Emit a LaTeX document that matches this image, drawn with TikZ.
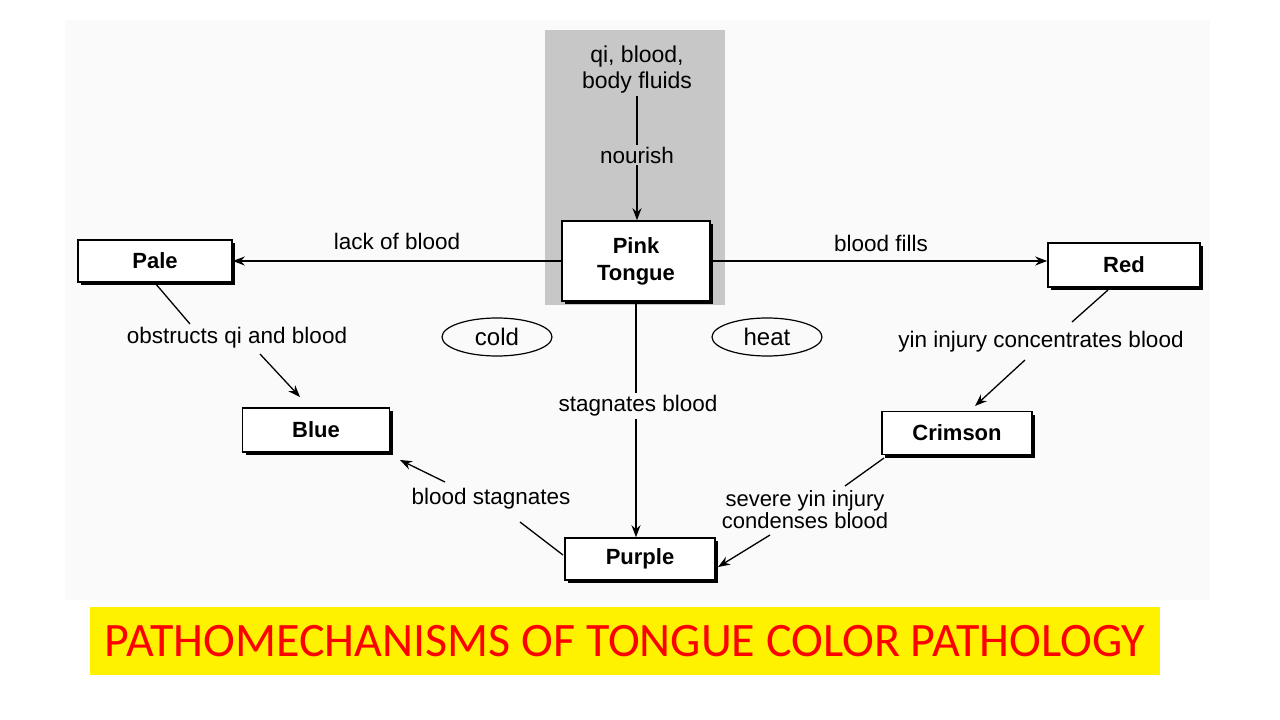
\documentclass[tikz,border=0pt]{standalone}
\usepackage{fontspec}
\setmainfont{Liberation Sans}
\newfontfamily\titlefont{Carlito}
\usetikzlibrary{shadows,arrows.meta,shapes.geometric}
\begin{document}
\begin{tikzpicture}[x=1pt,y=-1pt,
  box/.style={draw,line width=1.6pt,fill=white,minimum height=42pt,font=\fontsize{22}{24}\selectfont\bfseries,
    drop shadow={shadow xshift=3pt,shadow yshift=-3pt,fill=black,opacity=1}},
  lbl/.style={font=\fontsize{22.5}{25}\selectfont,align=center,inner sep=2pt},
  arr/.style={line width=1.3pt,-{Stealth[length=12pt,width=9pt]}},
  ell/.style={draw,line width=1.2pt,ellipse,minimum width=110pt,minimum height=38pt,font=\fontsize{24}{26}\selectfont}]
\useasboundingbox (0,0) rectangle (1280,720);
\fill[white] (0,0) rectangle (1280,720);
\fill[black!2] (65,20) rectangle (1210,600);
\fill[black!22] (545,30) rectangle (725,305);
\node[lbl,font=\fontsize{23}{26}\selectfont] (src) at (637,70) {qi, blood,\\body fluids};
\node[lbl] (nour) at (637,155) {nourish};
\node[box,minimum width=148pt,minimum height=80pt,align=center,font=\fontsize{22}{27}\selectfont\bfseries] (pink) at (636,261) {Pink\\Tongue};
\node[box,minimum width=154pt] (pale) at (155,261) {Pale};
\node[box,minimum width=152pt,minimum height=44pt] (red) at (1124,265) {Red};
\node[box,minimum width=147pt,minimum height=44pt] (blue) at (316,430) {Blue};
\node[box,minimum width=150pt,minimum height=43pt] (crim) at (957,433) {Crimson};
\node[box,minimum width=150pt] (purp) at (640,559) {Purple};
\node[ell] (cold) at (497,337) {cold};
\node[ell] (heat) at (767,337) {heat};
\node[lbl] (l1) at (397,241) {lack of blood};
\node[lbl] (l2) at (881,243) {blood fills};
\node[lbl] (l3) at (237,338) {obstructs qi and blood};
\node[lbl] (l4) at (1041,342) {yin injury concentrates blood};
\node[lbl] (l5) at (638,406) {stagnates blood};
\node[lbl] (l6) at (491,499) {blood stagnates};
\node[lbl,font=\fontsize{22}{22}\selectfont] (l7) at (805,510) {severe yin injury\\condenses blood};
\draw[line width=1.3pt] (src.south) -- (src.south |- nour.north);
\draw[arr] (nour.south) -- (nour.south |- pink.north);
\draw[arr] (pink.west) -- (pink.west -| pale.east);
\draw[arr] (pink.east) -- (pink.east -| red.west);
\coordinate (pb1) at (155,283);
\coordinate (pb1e) at (190,324);
\draw[line width=1.3pt] (pb1) -- (pb1e);
\coordinate (pb2) at (260,354);
\coordinate (pb2e) at (300,397);
\draw[arr] (pb2) -- (pb2e);
\coordinate (rc1) at (1108,290);
\coordinate (rc1e) at (1072,322);
\draw[line width=1.3pt] (rc1) -- (rc1e);
\coordinate (rc2) at (1025,360);
\coordinate (rc2e) at (975,406);
\draw[arr] (rc2) -- (rc2e);
\draw[line width=1.3pt] (pink.south) -- (pink.south |- l5.north);
\draw[arr] (pink.south |- l5.south) -- (pink.south |- purp.north);
\coordinate (bp) at (563,555);
\coordinate (bpe) at (520,522);
\draw[line width=1.3pt] (bp) -- (bpe);
\coordinate (bp2) at (445,482);
\coordinate (bp2e) at (400,460);
\draw[arr] (bp2) -- (bp2e);
\coordinate (cp) at (884,458);
\coordinate (cpe) at (845,486);
\draw[line width=1.3pt] (cp) -- (cpe);
\coordinate (cp2) at (770,535);
\coordinate (cp2e) at (718,567);
\draw[arr] (cp2) -- (cp2e);
\fill[yellow] (90,607) rectangle (1160,675);
\node[text=red,font=\titlefont\fontsize{48}{52}\selectfont] (title) at (625,641) {PATHOMECHANISMS OF TONGUE COLOR PATHOLOGY};
\end{tikzpicture}
\end{document}
